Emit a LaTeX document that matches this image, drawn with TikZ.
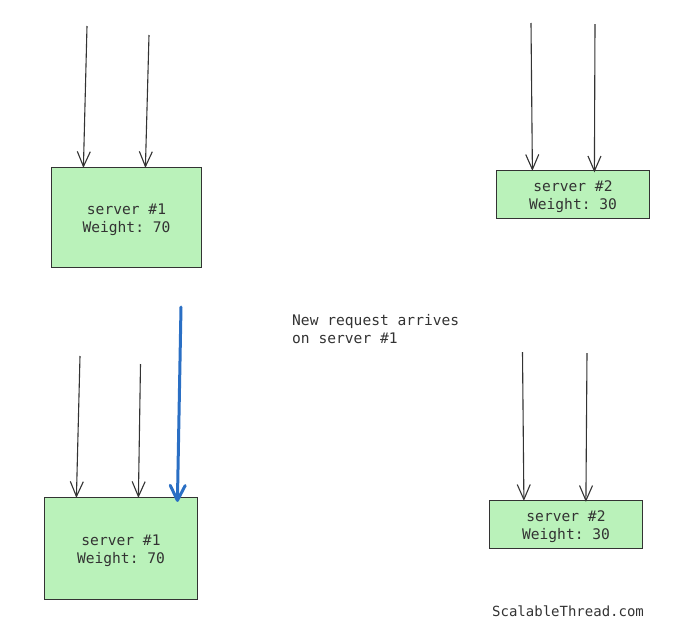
\documentclass[tikz,border=0pt]{standalone}
\usepackage{fontspec}
\setmonofont{DejaVu Sans Mono}
\usetikzlibrary{arrows.meta}
\definecolor{boxfill}{HTML}{BAF2BA}
\definecolor{inkc}{HTML}{333333}
\definecolor{reqblue}{HTML}{2A6FC4}
\newcommand{\twolines}[2]{\raisebox{-5.5pt}[0pt][0pt]{#1}\\\raisebox{-5.5pt}[0pt][0pt]{#2}}
\tikzset{
  x=1pt,y=-1pt,
  serverbox/.style={draw=inkc,fill=boxfill,line width=1.2pt,inner sep=0pt,align=center,font=\ttfamily\fontsize{14.6}{18}\selectfont,text=inkc},
  req/.style={draw=inkc,line width=1.1pt,-{Straight Barb[length=15pt,width=13pt]}},
  newreq/.style={draw=reqblue,line width=3pt,line cap=round,-{Straight Barb[length=15pt,width=15pt,round]}},
  plain/.style={font=\ttfamily\fontsize{14.6}{18}\selectfont,text=inkc,inner sep=0pt,align=left},
  credit/.style={font=\ttfamily\fontsize{14}{18}\selectfont,text=inkc,inner sep=0pt,align=left},
}
\begin{document}
\begin{tikzpicture}
\useasboundingbox (0,0) rectangle (691,635);
\node[serverbox,minimum width=150pt,minimum height=100pt] (s1) at (126.5,217.5) {\twolines{server \#1}{Weight: 70}};
\node[serverbox,minimum width=153pt,minimum height=48pt] (s2) at (573,194.5) {\twolines{server \#2}{Weight: 30}};
\node[serverbox,minimum width=153pt,minimum height=102pt] (s3) at (121,548.5) {\twolines{server \#1}{Weight: 70}};
\node[serverbox,minimum width=153pt,minimum height=48pt] (s4) at (566,524.5) {\twolines{server \#2}{Weight: 30}};
\coordinate (a1) at (87,26);
\coordinate (a2) at (149,35);
\coordinate (a3) at (531,23);
\coordinate (a4) at (595,24);
\coordinate (a5) at (80,356);
\coordinate (a6) at (140.5,364);
\coordinate (a7) at (181,307);
\coordinate (a8) at (522.5,352);
\coordinate (a9) at (587,353);
\draw[req] (a1) -- ([xshift=32.5pt,yshift=-1pt]s1.north west);
\draw[req] (a2) -- ([xshift=94.5pt,yshift=-1pt]s1.north west);
\draw[req] (a3) -- ([xshift=36.5pt,yshift=-1pt]s2.north west);
\draw[req] (a4) -- ([xshift=98.5pt,yshift=-2.5pt]s2.north west);
\draw[req] (a5) -- ([xshift=32.5pt,yshift=-1pt]s3.north west);
\draw[req] (a6) -- ([xshift=94.5pt,yshift=-1pt]s3.north west);
\draw[newreq] (a7) -- ([xshift=133.5pt,yshift=-5pt]s3.north west);
\draw[req] (a8) -- ([xshift=35pt,yshift=-1pt]s4.north west);
\draw[req] (a9) -- ([xshift=97pt,yshift=-2pt]s4.north west);
\node[plain,anchor=west] (note) at (292,329.5) {New request arrives\\on server \#1};
\node[credit,anchor=west] (site) at (492,611.5) {ScalableThread.com};
\end{tikzpicture}
\end{document}
